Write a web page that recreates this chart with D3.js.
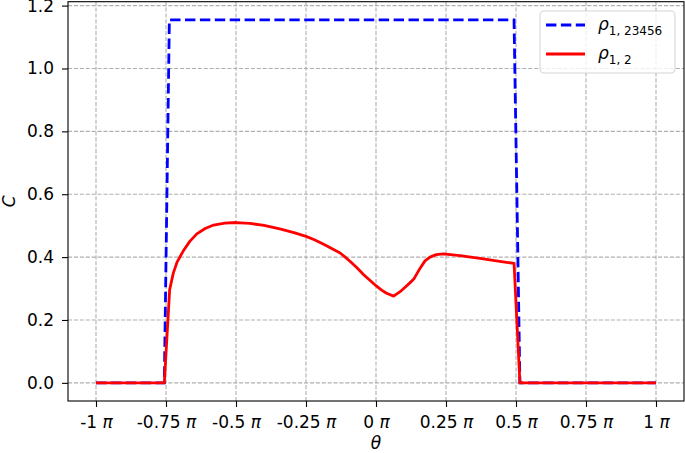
<!DOCTYPE html>
<html>
<head>
<meta charset="utf-8">
<script src="https://cdn.jsdelivr.net/npm/d3@7"></script>
<style>
  body { margin: 0; background: #fff; }
  text { font-family: "DejaVu Sans", sans-serif; fill: #000; }
</style>
</head>
<body>
<svg id="chart"></svg>
<script>
/* ---------- size ---------- */
var WIDTH = 685, HEIGHT = 453;
var margin = {left: 68, right: 1, top: 1.7, bottom: 52};

/* ---------- data (theta in units of pi) ---------- */
var thetaBlue = [-1, -0.756, -0.738, 0.493, 0.514, 1];
var cBlue     = [0, 0, 1.1547, 1.1547, 0, 0];

var thetaRed = [-1, -0.756, -0.737, -0.724, -0.71, -0.688, -0.665, -0.64, -0.61, -0.58,
                -0.54, -0.5, -0.45, -0.4, -0.34, -0.29, -0.25, -0.22, -0.187, -0.155,
                -0.128, -0.11, -0.092, -0.068, -0.044, -0.02, 0, 0.02, 0.038, 0.063,
                0.086, 0.105, 0.121, 0.135, 0.157, 0.175, 0.193, 0.215, 0.241, 0.3,
                0.371, 0.43, 0.493, 0.514, 1];
var cRed     = [0, 0, 0.296, 0.349, 0.385, 0.42, 0.45, 0.474, 0.491, 0.502,
                0.508, 0.51, 0.507, 0.501, 0.489, 0.477, 0.466, 0.455, 0.441, 0.426,
                0.413, 0.400, 0.386, 0.366, 0.344, 0.325, 0.309, 0.295, 0.285, 0.276,
                0.29, 0.305, 0.318, 0.33, 0.364, 0.388, 0.40, 0.408, 0.41, 0.405,
                0.396, 0.388, 0.38, 0, 0];

var xTicks = [-1, -0.75, -0.5, -0.25, 0, 0.25, 0.5, 0.75, 1];
var xTickLabels = ["-1", "-0.75", "-0.5", "-0.25", "0", "0.25", "0.5", "0.75", "1"];
var yTicks = [0, 0.2, 0.4, 0.6, 0.8, 1.0, 1.2];

var legendNames = ["1, 23456", "1, 2"];
var legendColors = ["#0000ff", "#ff0000"];

/* ---------- scales ---------- */
var x = d3.scaleLinear().domain([-1.1, 1.1]).range([margin.left, WIDTH - margin.right]);
var y = d3.scaleLinear().domain([-0.05774, 1.21244]).range([HEIGHT - margin.bottom, margin.top]);

var svg = d3.select("#chart").attr("width", WIDTH).attr("height", HEIGHT);

/* ---------- grid ---------- */
var grid = svg.append("g").attr("stroke", "#b0b0b0").attr("stroke-width", 1.1)
    .attr("stroke-dasharray", "4.1,1.8").attr("fill", "none");
grid.selectAll(".gx").data(xTicks).enter().append("line")
    .attr("x1", d => x(d)).attr("x2", d => x(d))
    .attr("y1", y.range()[0]).attr("y2", y.range()[1]);
grid.selectAll(".gy").data(yTicks).enter().append("line")
    .attr("y1", d => y(d)).attr("y2", d => y(d))
    .attr("x1", x.range()[0]).attr("x2", x.range()[1]);

/* ---------- lines ---------- */
var line = d3.line().x(d => x(d[0])).y(d => y(d[1]));

svg.append("path")
    .datum(d3.zip(thetaBlue, cBlue))
    .attr("d", line)
    .attr("fill", "none")
    .attr("stroke", legendColors[0])
    .attr("stroke-width", 2.8)
    .attr("stroke-dasharray", "10.4,4.5");

svg.append("path")
    .datum(d3.zip(thetaRed, cRed))
    .attr("d", line)
    .attr("fill", "none")
    .attr("stroke", legendColors[1])
    .attr("stroke-width", 2.8)
    .attr("stroke-linejoin", "round");

/* ---------- axes ---------- */
var xAxis = d3.axisBottom(x).tickValues(xTicks).tickSize(6).tickPadding(8)
    .tickFormat(() => "");
var gx = svg.append("g").attr("transform", "translate(0," + y.range()[0] + ")").call(xAxis);
gx.select(".domain").remove();
gx.selectAll("line").attr("stroke-width", 1.1);
gx.selectAll(".tick").append("text")
    .attr("y", 27).attr("text-anchor", "middle")
    .style("font-size", "17px")
    .each(function(d, i) {
        var t = d3.select(this);
        t.append("tspan").text(xTickLabels[i] + " ");
        t.append("tspan").style("font-style", "italic").text("π");
    });

var yAxis = d3.axisLeft(y).tickValues(yTicks).tickSize(6).tickPadding(8)
    .tickFormat(d3.format(".1f"));
var gy = svg.append("g").attr("transform", "translate(" + x.range()[0] + ",0)").call(yAxis);
gy.select(".domain").remove();
gy.selectAll("line").attr("stroke-width", 1.1);
gy.selectAll("text").style("font-size", "17px").attr("font-family", null);

/* ---------- frame ---------- */
svg.append("rect")
    .attr("x", x.range()[0]).attr("y", y.range()[1])
    .attr("width", x.range()[1] - x.range()[0])
    .attr("height", y.range()[0] - y.range()[1])
    .attr("fill", "none").attr("stroke", "#000").attr("stroke-width", 1.1);

/* ---------- axis labels ---------- */
svg.append("text")
    .attr("x", (x.range()[0] + x.range()[1]) / 2).attr("y", 449)
    .attr("text-anchor", "middle").style("font-size", "17px").style("font-style", "italic")
    .text("θ");

svg.append("text")
    .attr("transform", "translate(15," + (y.range()[0] + y.range()[1]) / 2 + ") rotate(-90)")
    .attr("text-anchor", "middle").style("font-size", "17px").style("font-style", "italic")
    .text("C");

/* ---------- legend ---------- */
var legend = svg.append("g");
legend.append("rect")
    .attr("x", 540).attr("y", 11).attr("width", 135).attr("height", 62)
    .attr("rx", 4).attr("fill", "#fff").attr("fill-opacity", 0.8)
    .attr("stroke", "#d6d6d6").attr("stroke-width", 1.1);

legendNames.forEach(function(name, i) {
    var ly = 25 + i * 29;
    legend.append("line")
        .attr("x1", 546).attr("x2", 585).attr("y1", ly).attr("y2", ly)
        .attr("stroke", legendColors[i]).attr("stroke-width", 2.8)
        .attr("stroke-dasharray", i === 0 ? "10.4,4.5" : null);
    var t = legend.append("text").attr("x", 598).attr("y", ly + 5).style("font-size", "17px");
    t.append("tspan").style("font-style", "italic").text("ρ");
    t.append("tspan").attr("dy", 5).style("font-size", "12px").text(name);
});
</script>
</body>
</html>
